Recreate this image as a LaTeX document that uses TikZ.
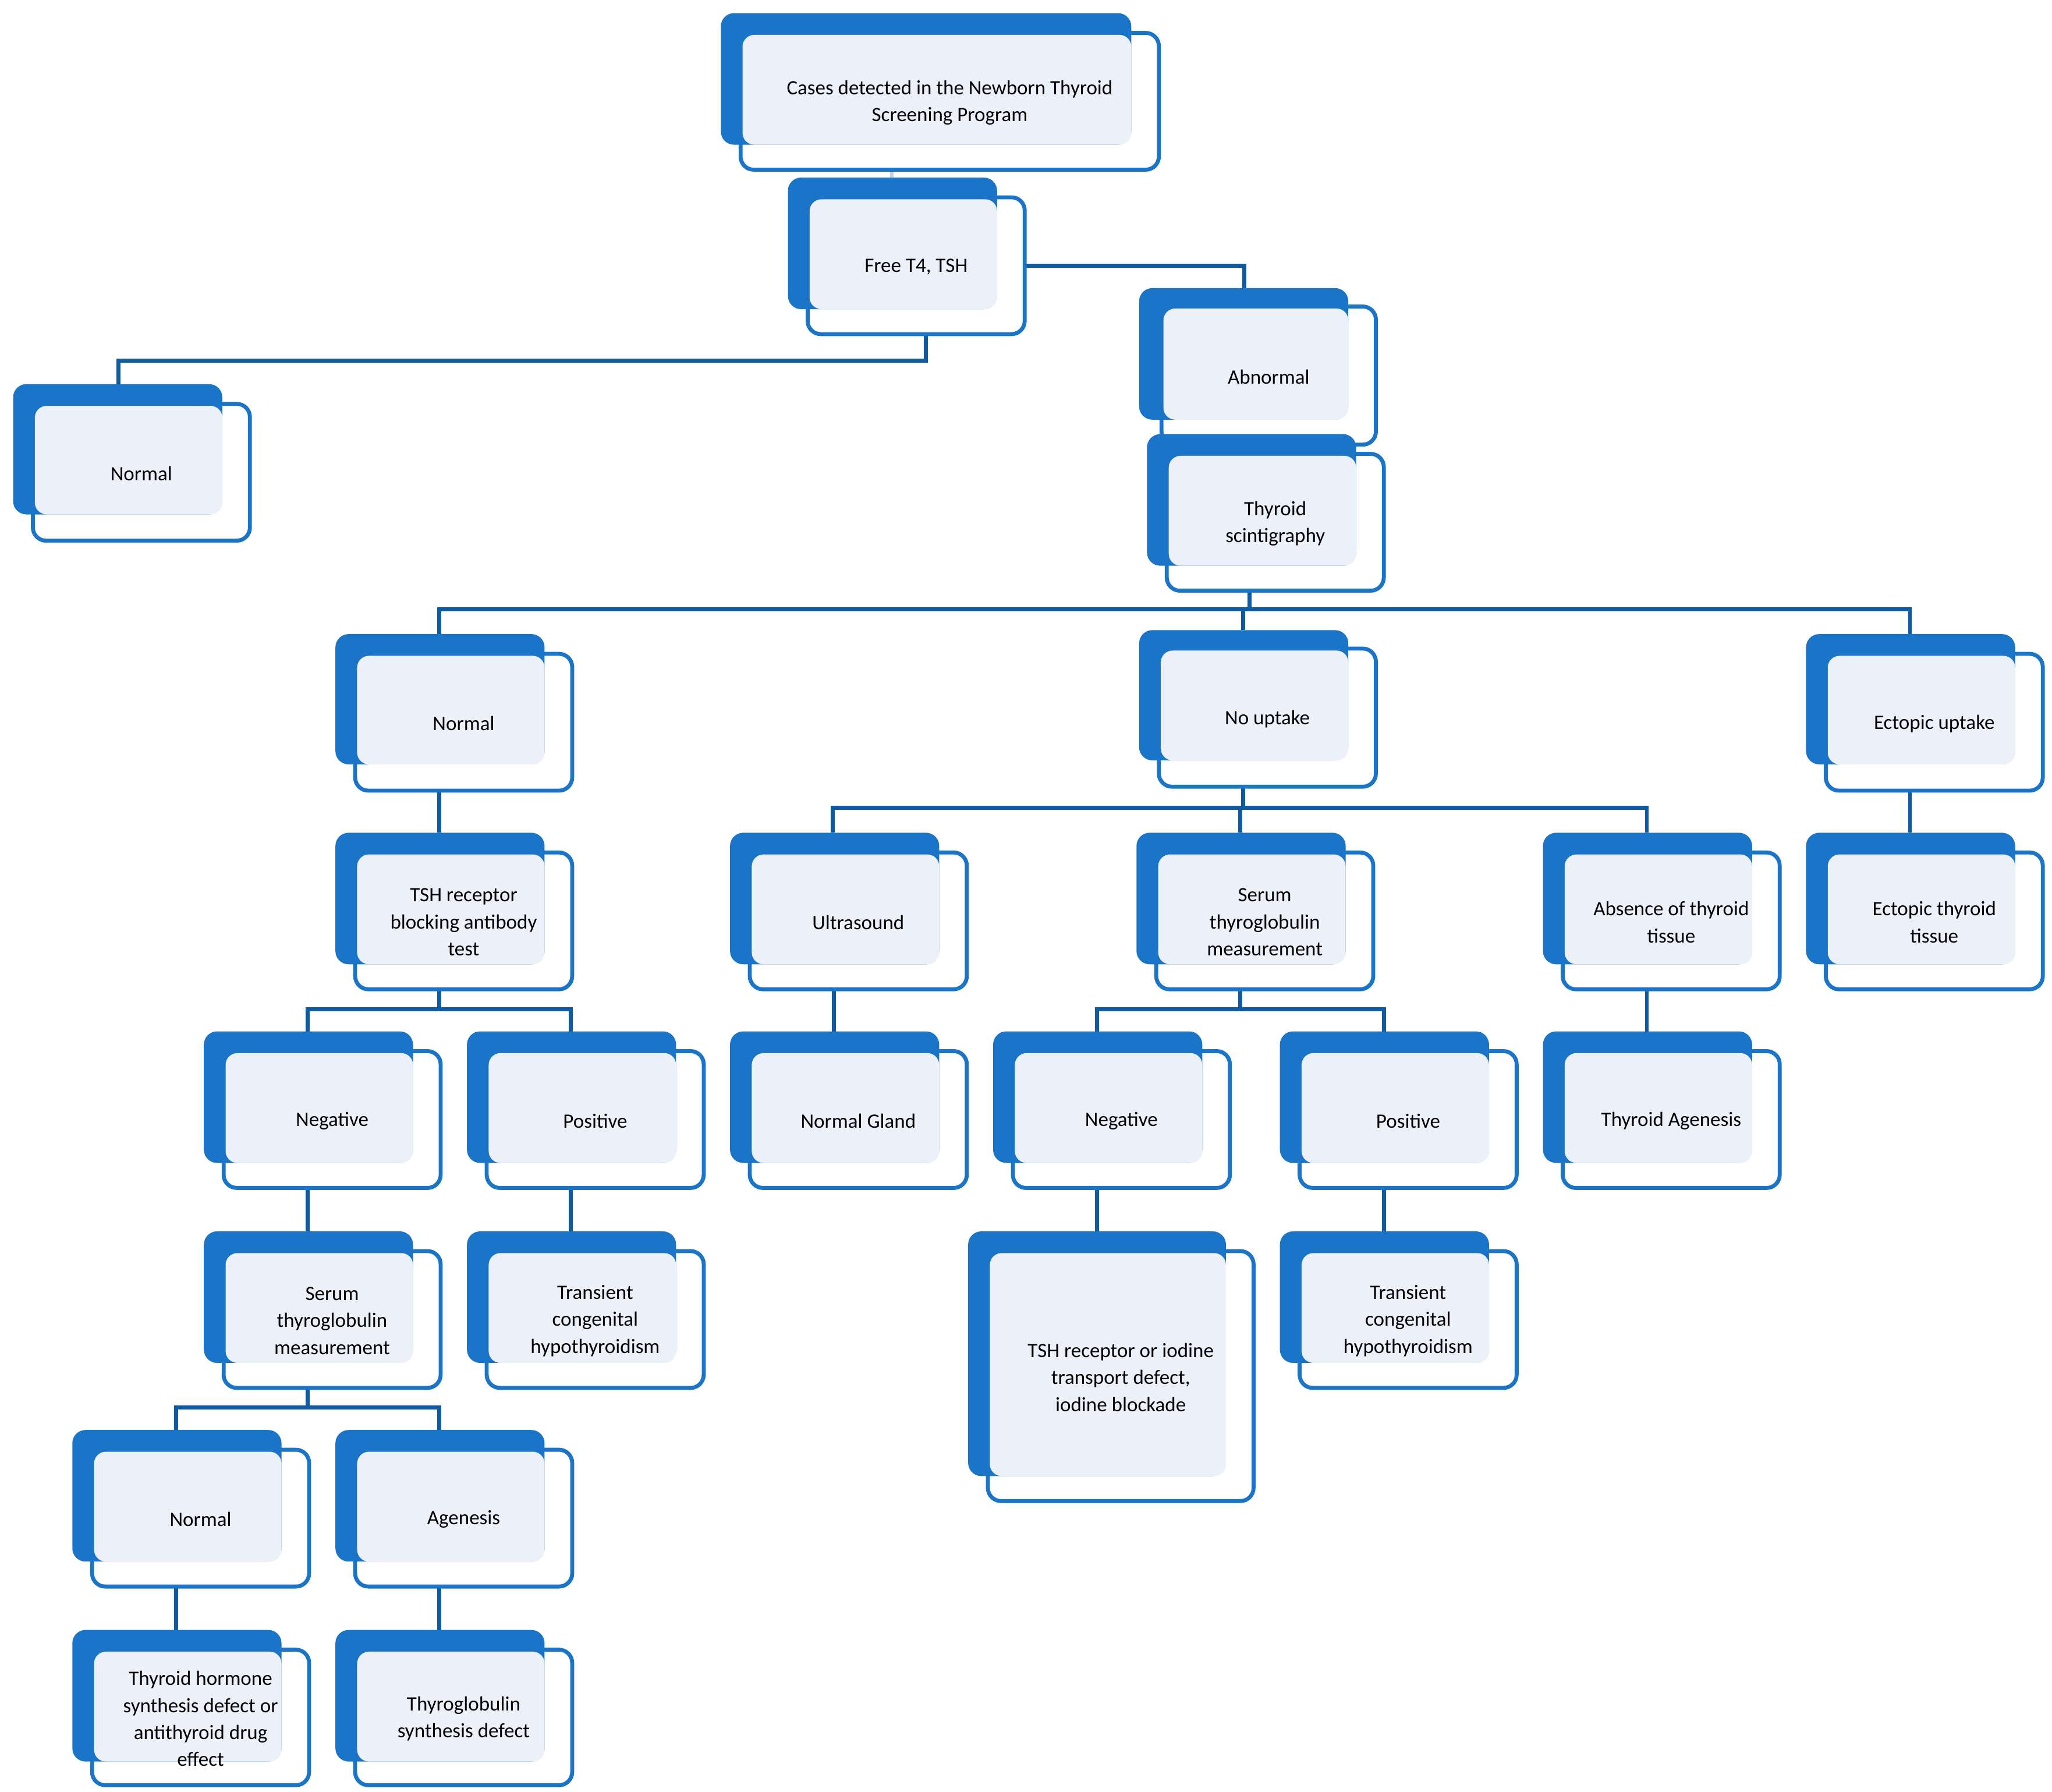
\documentclass[tikz,border=0pt]{standalone}
\usepackage{fontspec}
\setmainfont{Carlito}
\definecolor{bblue}{HTML}{1A74C8}
\definecolor{lfill}{HTML}{ECF0F9}
\definecolor{cline}{HTML}{0E5BA3}
\definecolor{faint}{HTML}{C8D3E8}
\tikzset{
  bstroke/.style={draw=bblue,line width=3pt,fill=white,rounded corners=10pt},
  aback/.style={fill=bblue,rounded corners=10pt},
  cfill/.style={fill=lfill,rounded corners=9pt},
  conn/.style={draw=cline,line width=3pt},
  fconn/.style={draw=faint,line width=3pt},
  lbl/.style={align=center,font=\fontsize{15.5}{20.5}\selectfont,inner sep=0pt}
}
\newcommand\bx[9]{%
  \draw[bstroke] (#5,#6) rectangle (#7,#8);
  \fill[aback] (#1,#2) rectangle (#3,#4);
  \fill[cfill] ({#5+1.5},{#6+1.5}) rectangle (#3,#4);
  \node[lbl] at ({(#5+#7)/2},{(#6+#8)/2+1}) {#9};
}
\begin{document}
\begin{tikzpicture}[x=1pt,y=-1pt]
\useasboundingbox (0,0) rectangle (1560,1362);
% connectors
\draw[fconn] (678,135)--(678,116)--(705,116)--(705,129);
\draw[conn] (704,254)--(704,274)--(90,274)--(90,292);
\draw[conn] (779,202)--(946,202)--(946,219);
\draw[fconn] (953,319)--(953,330);
\draw[conn] (950,449)--(950,463);
\draw[conn] (334,482)--(334,463)--(1452,463)--(1452,482);
\draw[conn] (945,463)--(945,479);
\draw[conn] (334,601)--(334,633);
\draw[conn] (945,598)--(945,614);
\draw[conn] (633,633)--(633,614)--(1252,614)--(1252,633);
\draw[conn] (943,614)--(943,633);
\draw[conn] (1452,601)--(1452,633);
\draw[conn] (334,752)--(334,767);
\draw[conn] (234,784)--(234,767)--(434,767)--(434,784);
\draw[conn] (634,752)--(634,784);
\draw[conn] (943,752)--(943,767);
\draw[conn] (834,784)--(834,767)--(1052,767)--(1052,784);
\draw[conn] (1252,752)--(1252,784);
\draw[conn] (234,903)--(234,936);
\draw[conn] (434,903)--(434,936);
\draw[conn] (834,903)--(834,936);
\draw[conn] (1052,903)--(1052,936);
\draw[conn] (234,1055)--(234,1070);
\draw[conn] (134,1087)--(134,1070)--(334,1070)--(334,1087);
\draw[conn] (134,1206)--(134,1239);
\draw[conn] (334,1206)--(334,1239);
% boxes
\bx{548}{10}{860}{110}{563}{25}{881}{129}{Cases detected in the Newborn Thyroid\\Screening Program}
\bx{599}{135}{758}{235}{614}{150}{779}{254}{Free T4, TSH}
\bx{10}{292}{169}{391}{25}{307}{190}{411}{Normal}
\bx{866}{219}{1025}{319}{883}{233}{1046}{338}{Abnormal}
\bx{872}{330}{1031}{430}{887}{345}{1052}{449}{Thyroid\\scintigraphy}
\bx{255}{482}{414}{581}{270}{497}{435}{601}{Normal}
\bx{866}{479}{1025}{578}{881}{493}{1046}{598}{No uptake}
\bx{1373}{482}{1532}{581}{1388}{497}{1553}{601}{Ectopic uptake}
\bx{255}{633}{414}{733}{270}{648}{435}{752}{TSH receptor\\blocking antibody\\test}
\bx{555}{633}{714}{733}{570}{648}{735}{752}{Ultrasound}
\bx{864}{633}{1023}{733}{879}{648}{1044}{752}{Serum\\thyroglobulin\\measurement}
\bx{1173}{633}{1332}{733}{1188}{648}{1353}{752}{Absence of thyroid\\tissue}
\bx{1373}{633}{1532}{733}{1388}{648}{1553}{752}{Ectopic thyroid\\tissue}
\bx{155}{784}{314}{884}{170}{799}{335}{903}{Negative}
\bx{355}{784}{514}{884}{370}{799}{535}{903}{Positive}
\bx{555}{784}{714}{884}{570}{799}{735}{903}{Normal Gland}
\bx{755}{784}{914}{884}{770}{799}{935}{903}{Negative}
\bx{973}{784}{1132}{884}{988}{799}{1153}{903}{Positive}
\bx{1173}{784}{1332}{884}{1188}{799}{1353}{903}{Thyroid Agenesis}
\bx{155}{936}{314}{1036}{170}{951}{335}{1055}{Serum\\thyroglobulin\\measurement}
\bx{355}{936}{514}{1036}{370}{951}{535}{1055}{Transient\\congenital\\hypothyroidism}
\bx{736}{936}{932}{1122}{751}{951}{953}{1141}{TSH receptor or iodine\\transport defect,\\iodine blockade}
\bx{973}{936}{1132}{1036}{988}{951}{1153}{1055}{Transient\\congenital\\hypothyroidism}
\bx{55}{1087}{214}{1187}{70}{1102}{235}{1206}{Normal}
\bx{255}{1087}{414}{1187}{270}{1102}{435}{1206}{Agenesis}
\bx{55}{1239}{214}{1339}{70}{1254}{235}{1357}{Thyroid hormone\\synthesis defect or\\antithyroid drug\\effect}
\bx{255}{1239}{414}{1339}{270}{1254}{435}{1357}{Thyroglobulin\\synthesis defect}
\end{tikzpicture}
\end{document}
